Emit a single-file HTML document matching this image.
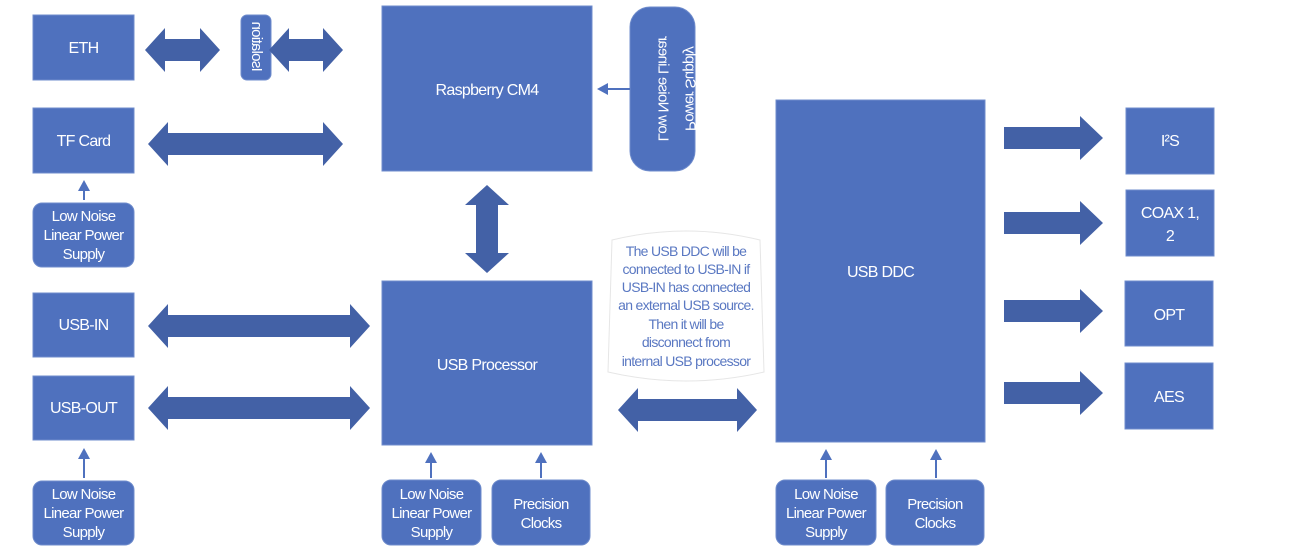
<!DOCTYPE html>
<html><head><meta charset="utf-8"><style>
html,body{margin:0;padding:0;background:#fff;}
svg{display:block;}
text{font-family:"Liberation Sans",sans-serif;fill:#fff;font-size:15px;letter-spacing:-0.7px;text-anchor:middle;}
.b{font-size:16px;}
.n{fill:#4f71be;stroke:#6f8ccc;stroke-width:1;}
.a{fill:#4361a6;}
.s{stroke:#4f71be;stroke-width:2;}
</style></head><body>
<svg width="1290" height="550" viewBox="0 0 1290 550">
<defs><marker id="m" markerWidth="12" markerHeight="12" refX="5" refY="6" orient="auto" markerUnits="userSpaceOnUse"><path d="M0,0 L11,6 L0,12Z" fill="#4f71be"/></marker></defs>
<rect class="n" x="33" y="15" width="101" height="65"/><text class="b" x="83.5" y="53">ETH</text>
<rect class="n" x="33" y="108" width="101" height="65"/><text class="b" x="83.5" y="146">TF Card</text>
<rect class="n" x="33" y="203" width="101" height="64" rx="9"/>
<text x="83.5" y="221">Low Noise</text><text x="83.5" y="240">Linear Power</text><text x="83.5" y="259">Supply</text>
<rect class="n" x="33" y="293" width="101" height="64"/><text class="b" x="83.5" y="330">USB-IN</text>
<rect class="n" x="33" y="376" width="101" height="64"/><text class="b" x="83.5" y="413">USB-OUT</text>
<rect class="n" x="33" y="481" width="101" height="64" rx="9"/>
<text x="83.5" y="499">Low Noise</text><text x="83.5" y="518">Linear Power</text><text x="83.5" y="537">Supply</text>
<line class="s" x1="84" y1="200" x2="84" y2="186" marker-end="url(#m)"/>
<line class="s" x1="84" y1="478" x2="84" y2="454" marker-end="url(#m)"/>
<rect class="n" x="241" y="15" width="30" height="65" rx="6"/>
<text x="0" y="0" font-size="12" transform="translate(256,47) rotate(90) scale(-1,1) translate(0,4)">Isolation</text>
<path class="a" d="M145,50 L165,28 L165,39 L200,39 L200,28 L220,50 L200,72 L200,61 L165,61 L165,72Z"/>
<path class="a" d="M269,50 L289,28 L289,39 L323,39 L323,28 L343,50 L323,72 L323,61 L289,61 L289,72Z"/>
<path class="a" d="M148,144 L168,122 L168,133 L323,133 L323,122 L343,144 L323,166 L323,155 L168,155 L168,166Z"/>
<path class="a" d="M148,326 L168,304 L168,315 L350,315 L350,304 L370,326 L350,348 L350,337 L168,337 L168,348Z"/>
<path class="a" d="M148,408 L168,386 L168,397 L350,397 L350,386 L370,408 L350,430 L350,419 L168,419 L168,430Z"/>
<path class="a" d="M618,410 L638,388 L638,399 L737,399 L737,388 L757,410 L737,432 L737,421 L638,421 L638,432Z"/>
<path class="a" d="M487,185 L509,205 L498,205 L498,253 L509,253 L487,273 L465,253 L476,253 L476,205 L465,205Z"/>
<path class="a" d="M1004,127 L1080,127 L1080,116 L1103,138 L1080,160 L1080,149 L1004,149Z"/>
<path class="a" d="M1004,212 L1080,212 L1080,201 L1103,223 L1080,245 L1080,234 L1004,234Z"/>
<path class="a" d="M1004,300 L1080,300 L1080,289 L1103,311 L1080,333 L1080,322 L1004,322Z"/>
<path class="a" d="M1004,382 L1080,382 L1080,371 L1103,393 L1080,415 L1080,404 L1004,404Z"/>
<rect class="n" x="382" y="6" width="210" height="165"/><text class="b" x="487" y="95">Raspberry CM4</text>
<rect class="n" x="630" y="7" width="65" height="164" rx="20"/>
<g transform="translate(662.5,89) rotate(90) scale(-1,1)"><text x="0" y="-23">Power Supply</text><text x="0" y="4">Low Noise Linear</text></g>
<line class="s" x1="630" y1="89" x2="603" y2="89" marker-end="url(#m)"/>
<rect class="n" x="382" y="281" width="210" height="164"/><text class="b" x="487" y="370">USB Processor</text>
<rect class="n" x="382" y="480" width="99" height="65" rx="9"/>
<text x="431.5" y="499">Low Noise</text><text x="431.5" y="518">Linear Power</text><text x="431.5" y="537">Supply</text>
<rect class="n" x="492" y="480" width="98" height="65" rx="9"/>
<text x="541" y="509">Precision</text><text x="541" y="528">Clocks</text>
<line class="s" x1="431" y1="478" x2="431" y2="458" marker-end="url(#m)"/>
<line class="s" x1="541" y1="478" x2="541" y2="458" marker-end="url(#m)"/>
<path d="M612,240 Q686,222 760,240 L764,372 Q686,390 608,372 Z" fill="#fff" stroke="#e6e6e6"/>
<g>
<text x="686" y="256" style="fill:#5a78c2;font-size:14px">The USB DDC will be</text>
<text x="686" y="274" style="fill:#5a78c2;font-size:14px">connected to USB-IN if</text>
<text x="686" y="292" style="fill:#5a78c2;font-size:14px">USB-IN has connected</text>
<text x="686" y="310" style="fill:#5a78c2;font-size:14px">an external USB source.</text>
<text x="686" y="329" style="fill:#5a78c2;font-size:14px">Then it will be</text>
<text x="686" y="347" style="fill:#5a78c2;font-size:14px">disconnect from</text>
<text x="686" y="366" style="fill:#5a78c2;font-size:14px">internal USB processor</text>
</g>
<rect class="n" x="776" y="100" width="209" height="342"/><text class="b" x="880.5" y="277">USB DDC</text>
<rect class="n" x="776" y="480" width="100" height="65" rx="9"/>
<text x="826" y="499">Low Noise</text><text x="826" y="518">Linear Power</text><text x="826" y="537">Supply</text>
<rect class="n" x="886" y="480" width="98" height="65" rx="9"/>
<text x="935" y="509">Precision</text><text x="935" y="528">Clocks</text>
<line class="s" x1="826" y1="478" x2="826" y2="455" marker-end="url(#m)"/>
<line class="s" x1="936" y1="478" x2="936" y2="455" marker-end="url(#m)"/>
<rect class="n" x="1126" y="108" width="88" height="66"/><text class="b" x="1170" y="146">I²S</text>
<rect class="n" x="1126" y="190" width="88" height="66"/><text class="b" x="1170" y="218">COAX 1,</text><text class="b" x="1170" y="241">2</text>
<rect class="n" x="1125" y="281" width="88" height="65"/><text class="b" x="1169" y="320">OPT</text>
<rect class="n" x="1125" y="363" width="88" height="66"/><text class="b" x="1169" y="402">AES</text>
</svg>
</body></html>
